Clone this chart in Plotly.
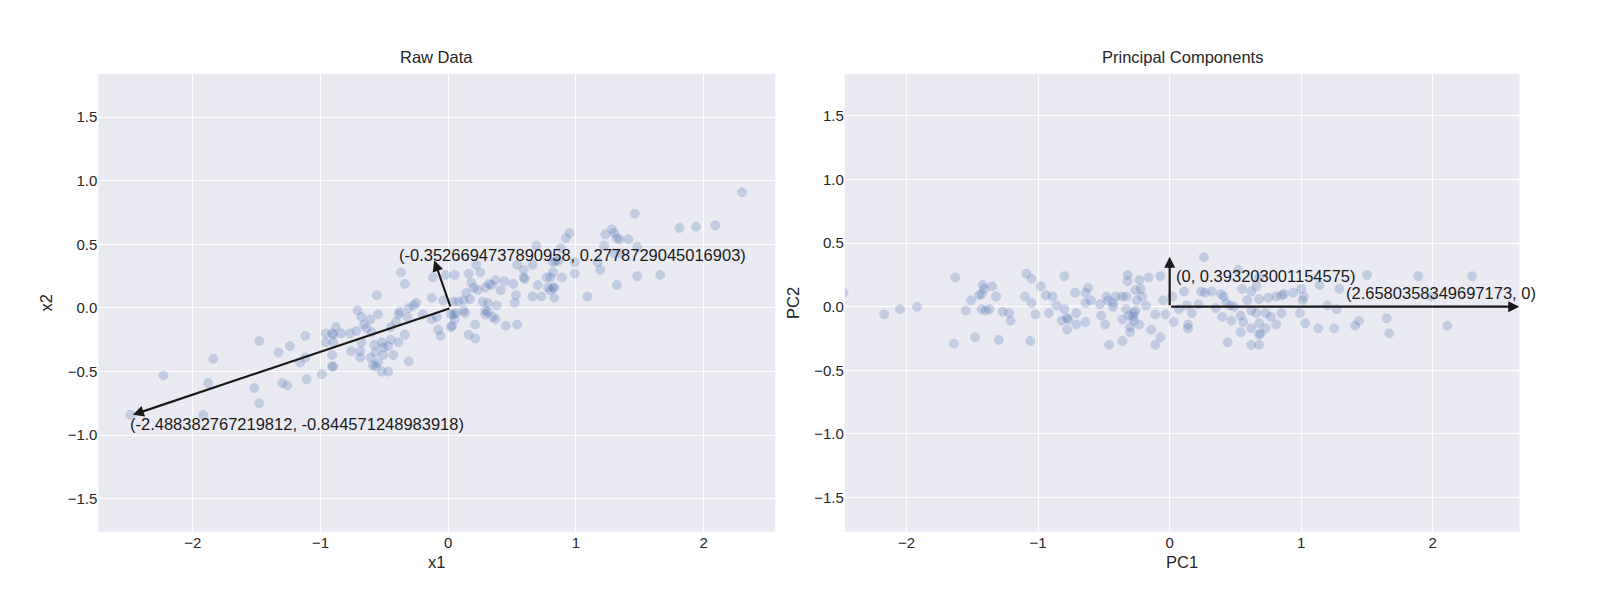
import plotly.graph_objects as go

raw_x1 = [-2.49,-2.23,-1.84,-1.88,-1.92,-1.48,-1.52,-1.48,-1.33,-1.24,-1.12,-1.16,-1.12,-1.30,-1.26,-1.11,-0.99,-0.96,-0.91,-0.96,-0.91,-0.91,
-0.37,-0.34,-0.56,-0.71,-0.68,-0.61,-0.55,-0.66,-0.72,-0.64,-0.60,-0.77,-0.84,-0.90,-0.90,-0.90,-0.76,-0.69,-0.69,-0.61,-0.57,-0.58,-0.52,-0.51,-0.47,-0.51,-0.43,-0.59,-0.55,-0.57,-0.52,-0.47,-0.31,-0.45,-0.39,-0.34,-0.45,-0.41,-0.39,-0.38,-0.32,-0.31,-0.27,-0.25,-0.20,-0.13,-0.13,-0.09,-0.08,-0.06,-0.12,-0.02,-0.04,0.04,0.02,0.04,-0.68,-0.88,
0.69,0.22,0.25,0.16,0.05,0.54,0.59,0.66,0.82,0.86,0.59,0.60,0.37,0.44,0.32,0.18,0.20,0.23,0.29,0.34,0.41,0.51,0.53,0.70,0.77,0.78,0.83,0.80,0.66,0.73,0.83,0.14,0.12,0.08,0.17,0.27,0.31,0.38,0.52,0.29,0.31,0.12,0.06,0.13,0.29,0.02,0.05,0.37,0.35,0.03,0.21,0.45,0.54,0.16,0.21,
2.30,1.46,1.81,1.94,2.09,1.28,1.23,1.30,1.32,1.34,1.41,1.22,1.48,1.35,1.30,0.95,0.92,0.88,0.99,0.84,0.82,1.17,1.19,0.99,0.89,1.48,1.66,1.32,1.09,0.82,0.80]
raw_x2 = [-0.84,-0.53,-0.40,-0.59,-0.84,-0.26,-0.63,-0.75,-0.35,-0.30,-0.22,-0.43,-0.39,-0.59,-0.61,-0.56,-0.52,-0.20,-0.20,-0.27,-0.37,-0.46,
0.28,0.19,0.10,-0.02,-0.07,-0.09,-0.05,-0.13,-0.18,-0.16,-0.19,-0.20,-0.20,-0.21,-0.27,-0.46,-0.34,-0.34,-0.39,-0.39,-0.35,-0.29,-0.27,-0.31,-0.30,-0.37,-0.37,-0.45,-0.43,-0.46,-0.50,-0.50,-0.42,-0.25,-0.27,-0.21,-0.15,-0.11,-0.05,-0.03,-0.07,0.00,0.02,0.04,-0.05,0.08,-0.09,-0.07,-0.17,-0.22,0.24,0.26,0.06,-0.05,-0.15,0.05,-0.27,-0.15,
0.49,0.34,0.28,0.27,0.26,0.34,0.30,0.34,0.28,0.37,0.24,0.23,0.22,0.21,0.19,0.20,0.16,0.14,0.16,0.18,0.14,0.19,0.10,0.18,0.24,0.16,0.16,0.14,0.09,0.09,0.08,0.12,0.06,0.05,0.07,0.05,0.04,0.02,0.04,-0.02,-0.03,-0.02,-0.04,-0.04,-0.05,-0.05,-0.09,-0.09,-0.07,-0.14,-0.13,-0.14,-0.13,-0.21,-0.24,
0.91,0.74,0.63,0.64,0.65,0.62,0.58,0.59,0.55,0.54,0.54,0.49,0.48,0.43,0.43,0.59,0.55,0.47,0.36,0.37,0.36,0.36,0.30,0.27,0.24,0.25,0.26,0.18,0.09,0.16,0.24]

pc1 = [-2.48,-2.17,-2.05,-1.92,-1.63,-1.64,-1.48,-1.55,-1.51,-1.45,-1.43,-1.42,-1.41,-1.35,-1.43,-1.40,-1.37,
-1.32,-1.27,-1.22,-1.21,-1.30,-1.09,-1.05,-1.10,-1.05,-1.02,-1.06,-0.98,-0.94,-0.89,-0.92,-0.86,-0.80,-0.80,-0.82,-0.78,-0.78,-0.77,-0.71,-0.71,-0.72,-0.64,-0.62,-0.64,-0.60,-0.64,-0.53,-0.52,-0.49,-0.48,-0.47,-0.46,-0.43,-0.41,-0.43,-0.36,-0.33,-0.36,-0.36,-0.32,-0.32,-0.33,-0.31,-0.30,-0.30,-0.26,-0.23,-0.22,-0.25,-0.21,-0.27,-0.26,-0.28,-0.27,-0.23,-0.18,-0.16,
0.26,-0.07,-0.11,-0.14,-0.07,-0.11,-0.05,-0.03,0.02,0.03,0.11,0.07,0.13,0.17,0.14,0.14,0.22,0.24,0.27,0.32,0.35,0.39,0.41,0.40,0.43,0.46,0.49,0.47,0.44,0.52,0.55,0.54,0.56,0.54,0.59,0.62,0.62,0.62,0.66,0.68,0.68,0.66,0.68,0.69,0.68,0.62,0.68,0.75,0.73,0.73,0.77,0.81,0.81,0.85,
0.87,0.94,1.00,1.02,1.01,0.85,0.99,1.03,1.13,1.14,1.20,1.27,1.25,1.29,1.41,1.44,1.50,1.65,1.67,1.89,1.99,2.11,2.30]
pc2 = [0.11,-0.06,-0.02,0.00,0.23,-0.29,-0.24,-0.03,0.05,0.09,0.10,0.17,0.14,0.16,-0.02,-0.03,-0.02,
0.08,-0.04,-0.05,-0.11,-0.26,0.26,0.22,0.08,0.03,-0.06,-0.27,0.16,0.09,0.08,-0.05,0.01,0.24,-0.02,-0.11,-0.09,-0.18,-0.10,-0.05,-0.14,0.11,0.11,0.15,0.03,0.05,-0.12,0.02,-0.07,-0.14,0.08,0.05,-0.30,0.03,0.08,0.00,0.08,0.08,-0.10,-0.27,0.25,0.20,-0.02,-0.07,-0.16,-0.20,0.13,0.21,0.14,0.05,0.08,-0.05,-0.03,-0.08,-0.11,-0.14,0.01,0.23,
0.39,0.24,-0.06,-0.18,-0.24,-0.30,0.05,-0.06,0.08,-0.12,0.12,-0.02,0.01,-0.05,-0.14,-0.17,0.02,0.12,0.11,0.12,-0.01,0.10,0.08,-0.08,0.03,0.01,0.00,-0.11,-0.28,0.29,0.14,-0.07,-0.12,-0.20,0.05,0.12,-0.03,-0.17,0.16,0.23,0.06,-0.05,-0.13,-0.21,-0.22,-0.30,-0.30,0.07,-0.05,-0.17,-0.08,-0.14,0.08,0.09,
0.10,0.11,0.14,0.08,0.05,-0.05,-0.05,-0.13,-0.17,0.17,0.01,-0.02,-0.17,0.14,-0.15,-0.11,0.25,-0.09,-0.21,0.24,0.08,-0.15,0.24]

ticks_x = [-2, -1, 0, 1, 2]
ticks_y = [-1.5, -1.0, -0.5, 0.0, 0.5, 1.0, 1.5]
def lab(v, fmt):
    s = fmt.format(v)
    return s.replace("-", "\u2212")

FONT = "Liberation Sans, Arial, sans-serif"
TXT = "#262626"
fig = go.Figure()
mk = dict(color="#4C72B0", size=9, opacity=0.25, line=dict(width=1, color="#4C72B0"))
fig.add_trace(go.Scatter(x=raw_x1, y=raw_x2, mode="markers", marker=mk, xaxis="x", yaxis="y", hoverinfo="skip"))
fig.add_trace(go.Scatter(x=pc1, y=pc2, mode="markers", marker=mk, xaxis="x2", yaxis="y2", hoverinfo="skip"))

ax_common = dict(showgrid=True, gridcolor="white", gridwidth=1.2, zeroline=False, showline=False, automargin=False,
                 ticks="", tickfont=dict(size=15, color=TXT, family=FONT),
                 title_font=dict(size=16.5, color=TXT, family=FONT))
fig.update_layout(
    width=1600, height=600, paper_bgcolor="white", plot_bgcolor="#EAEAF2", showlegend=False,
    margin=dict(l=0, r=0, t=0, b=0), font=dict(family=FONT, color=TXT),
    xaxis=dict(domain=[0.0565, 0.4795], range=[-2.74, 2.56], tickvals=ticks_x, ticktext=[lab(v, "{:d}") for v in ticks_x], title=dict(text="x1", standoff=6), anchor="y", **ax_common),
    yaxis=dict(domain=[0.127, 0.89], range=[-1.76, 1.84], tickvals=ticks_y, ticktext=[lab(v, "{:.1f}") for v in ticks_y], title=dict(text="x2", standoff=10), anchor="x", **ax_common),
    xaxis2=dict(domain=[0.523, 0.9447], range=[-2.47, 2.66], tickvals=ticks_x, ticktext=[lab(v, "{:d}") for v in ticks_x], title=dict(text="PC1", standoff=6), anchor="y2", **ax_common),
    yaxis2=dict(domain=[0.127, 0.89], range=[-1.77, 1.83], tickvals=ticks_y, ticktext=[lab(v, "{:.1f}") for v in ticks_y], title=dict(text="PC2", standoff=10), anchor="x2", **ax_common),
)

arrows = [
    ("x", "y", 0.02, 0.0, -2.47, -0.84),
    ("x", "y", 0.02, 0.0, -0.11, 0.375),
    ("x2", "y2", 0.0, 0.0, 2.658, 0.0),
    ("x2", "y2", 0.0, 0.0, 0.0, 0.393),
]
for xr, yr, x0, y0, x1, y1 in arrows:
    fig.add_annotation(x=x1, y=y1, ax=x0, ay=y0, xref=xr, yref=yr, axref=xr, ayref=yr,
                       showarrow=True, arrowhead=2, arrowsize=1, arrowwidth=2.2, arrowcolor="#1a1a1a", text="")

labels = [
    ("x", "y", -2.5, -0.99, "(-2.488382767219812, -0.844571248983918)"),
    ("x", "y", -0.39, 0.34, "(-0.3526694737890958, 0.2778729045016903)"),
    ("x2", "y2", 0.04, 0.16, "(0, 0.393203001154575)"),
    ("x2", "y2", 1.33, 0.03, "(2.6580358349697173, 0)"),
]
for xr, yr, x, y, t in labels:
    fig.add_annotation(x=x, y=y, xref=xr, yref=yr, text=t, showarrow=False, xanchor="left", yanchor="bottom",
                       font=dict(size=16.5, color="#1a1a1a", family=FONT), borderpad=0)

for xc, t in [(0.268, "Raw Data"), (0.734, "Principal Components")]:
    fig.add_annotation(x=xc, y=0.9, xref="paper", yref="paper", text=t, showarrow=False,
                       xanchor="center", yanchor="bottom", font=dict(size=16.5, color=TXT, family=FONT))

fig.write_html("out.html")
